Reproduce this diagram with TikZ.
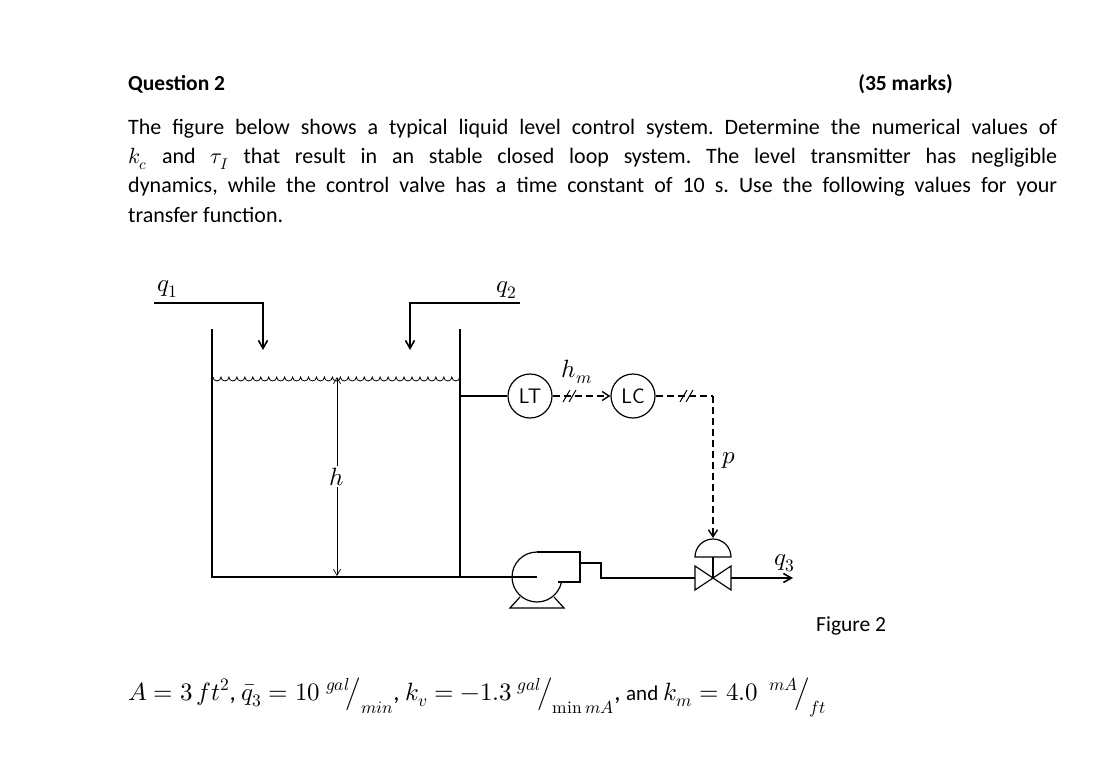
\documentclass[tikz,border=0pt]{standalone}
\usepackage{fontspec}
\usepackage{unicode-math}
\setmathfont{Latin Modern Math}
\setmainfont{Carlito}
\usetikzlibrary{arrows.meta}
\frenchspacing
\begin{document}
\begin{tikzpicture}[x=1pt,y=-1pt,
  pipe/.style={line width=1.6pt},
  sig/.style={line width=1.4pt,dash pattern=on 7pt off 4pt},
  inst/.style={circle,draw,line width=1.2pt,minimum size=44pt,inner sep=0pt,font=\fontsize{21}{21}\sffamily},
  lbl/.style={font=\fontsize{25}{25}\selectfont},
  hatch/.style={line width=1pt}]
\useasboundingbox (0,0) rectangle (1114,766);
\fill[white] (0,0) rectangle (1114,766);
% text
\node[anchor=base west,inner sep=0pt,font=\fontsize{21.5}{24}\bfseries] (title) at (128,90) {Question 2};
\node[anchor=base east,inner sep=0pt,font=\fontsize{21.5}{24}\bfseries] (marks) at (953,90) {(35 marks)};
\node[anchor=north west,inner sep=0pt,text width=929pt,align=justify,font=\fontsize{22}{29.2}\selectfont] (para) at (128,119)
{The figure below shows a typical liquid level control system. Determine the numerical values of\linebreak
$k_c$ and $\tau_I$ that result in an stable closed loop system. The level transmitter has negligible\linebreak
dynamics, while the control valve has a time constant of 10 s. Use the following values for your\linebreak
transfer function.};
\node[anchor=base west,inner sep=0pt,font=\fontsize{21.5}{24}\selectfont] (fig) at (816,631) {Figure 2};
\node[anchor=base west,inner sep=0pt,font=\fontsize{25}{28}\selectfont] (formula) at (128,700)
{$A=3\,ft^2$, $\bar q_3=10\ {}^{gal}\!\big/_{min}$, $k_v=-1.3\ {}^{gal}\!\big/_{\symup{min}\,mA}$, {\fontsize{21}{21}\selectfont and} $k_m=4.0\ \ {}^{mA}\!\big/_{ft}$};
% inflows
\coordinate (q1s) at (154,303); \coordinate (q1c) at (263,303); \coordinate (q1e) at (263,350);
\coordinate (q2s) at (520,303); \coordinate (q2c) at (410,303); \coordinate (q2e) at (410,350);
\draw[pipe,-{Straight Barb[length=8pt,width=9pt]}] (q1s) -- (q1c) -- (q1e);
\draw[pipe,-{Straight Barb[length=8pt,width=9pt]}] (q2s) -- (q2c) -- (q2e);
\node[lbl] (q1l) at (168,289) {$q_1$};
\node[lbl] (q2l) at (507,290) {$q_2$};
% tank
\coordinate (tl) at (212,329); \coordinate (bl) at (212,577);
\coordinate (tr) at (460,329); \coordinate (br) at (460,577);
\draw[pipe] (tl) -- (bl) -- (br) -- (tr);
\draw[line width=0.8pt] (213,377) foreach \i in {1,...,31} {arc[start angle=180,end angle=0,radius=3.98]};
\coordinate (htop) at (337,377); \coordinate (hbot) at (337,576);
\draw[line width=0.7pt,{Straight Barb[length=6pt,width=7pt]}-{Straight Barb[length=6pt,width=7pt]}] (htop) -- node[fill=white,inner sep=2pt,lbl]{$h$} (hbot);
% instruments
\node[inst] (LT) at (530,396) {LT};
\node[inst] (LC) at (633,396) {LC};
\coordinate (tap) at (460,396);
\draw[pipe] (tap) -- (LT);
\draw[sig,-{Straight Barb[length=7pt,width=9pt]}] (LT) -- (LC);
\draw[hatch] (563,402) -- (570,390) (569,402) -- (576,390);
\node[lbl] (hm) at (577,372) {$h_m$};
\coordinate (corner) at (713,396);
\coordinate (vtop) at (713,538);
\draw[sig] (LC) -- (corner);
\draw[sig,-{Straight Barb[length=7pt,width=9pt]}] (corner) -- (vtop);
\draw[hatch] (680,402) -- (687,390) (686,402) -- (693,390);
\node[lbl] (pl) at (729,460) {$p$};
% valve
\draw[line width=1.2pt] (695,557) arc[start angle=180,end angle=360,radius=18] -- cycle;
\draw[line width=1.2pt] (713,557) -- (713,578);
\draw[line width=1.2pt] (695,566) -- (731,590) -- (731,566) -- (695,590) -- cycle;
\coordinate (vin) at (695,578); \coordinate (vout) at (731,578); \coordinate (q3e) at (793,578);
\draw[pipe,-{Straight Barb[length=8pt,width=9pt]}] (vout) -- (q3e);
\node[lbl] (q3l) at (785,563) {$q_3$};
% pump
\node[circle,draw,line width=1.2pt,minimum size=50pt,inner sep=0pt] (pump) at (537,577) {};
\draw[line width=1.2pt,fill=white] (537,552) -- (580,552) -- (580,582) -- (558,582);
\draw[pipe] (br) -- (pump.center);
\draw[pipe] (580,563) -- (601,563) -- (601,578) -- (vin);
\draw[line width=1.2pt] (520,597) -- (510,608) -- (564,608) -- (554,597);
\end{tikzpicture}
\end{document}
